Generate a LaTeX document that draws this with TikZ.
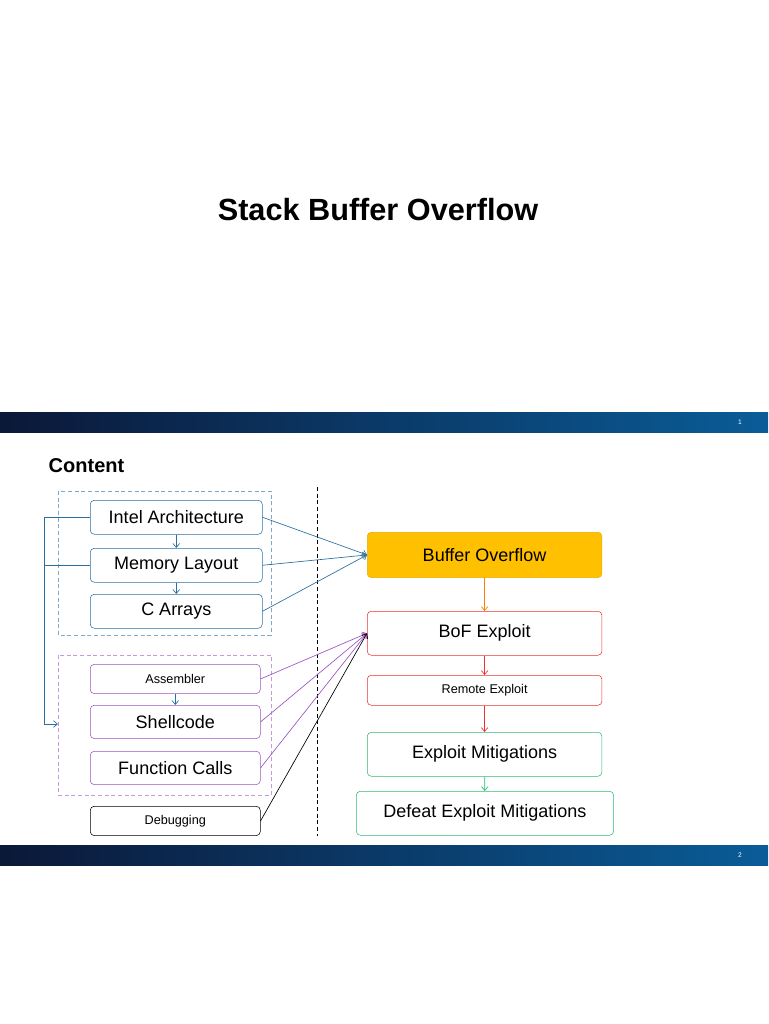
\documentclass[tikz,border=0pt]{standalone}
\usepackage{fontspec}
\setmainfont{Liberation Sans}
\usetikzlibrary{arrows.meta}
\definecolor{bluec}{HTML}{2A6FA0}
\definecolor{purc}{HTML}{9A55C0}
\definecolor{redc}{HTML}{F03030}
\definecolor{grnc}{HTML}{30B870}
\definecolor{orgc}{HTML}{FFC000}
\definecolor{navyl}{HTML}{0B1838}
\definecolor{navyr}{HTML}{0A5C98}
\tikzset{
  box/.style={draw, rounded corners=3pt, anchor=north west, align=left,
    inner xsep=6pt, inner ysep=0pt, font=\fontsize{13.5}{15}\selectfont},
  smallbox/.style={box, font=\fontsize{9.5}{11}\selectfont},
  con/.style={-{Straight Barb[length=3pt,width=5pt]}, line width=0.5pt},
  banner/.style={left color=navyl, right color=navyr, draw=none}
}
\begin{document}
\begin{tikzpicture}[x=0.75pt,y=-0.75pt]
	\useasboundingbox (0,0) rectangle (768,1024);
	\draw (378,210) node[font=\bfseries\fontsize{23}{26}\selectfont] {Stack Buffer Overflow};
	\fill[banner] (0,412) rectangle (768,432);
	\draw (740,422) node[white, font=\fontsize{5}{6}\selectfont] {1};
	\draw (44,466) node[anchor=west, font=\bfseries\fontsize{15}{17}\selectfont] {Content};
	% groups
	\draw[bluec!60, densely dashed, line width=0.4pt] (58,491) rectangle (271,635);
	\draw[purc!60, densely dashed, line width=0.4pt] (58,655) rectangle (271,795);
	\draw[densely dashed, line width=0.5pt] (317,487) -- (317,836);
	% left nodes
	\node[box, draw=bluec, minimum width=129pt, minimum height=25.5pt] (intel) at (90,500) {Intel Architecture};
	\node[box, draw=bluec, minimum width=129pt, minimum height=25.5pt] (mem) at (90,548) {Memory Layout};
	\node[box, draw=bluec, minimum width=129pt, minimum height=25.5pt] (carr) at (90,594) {C Arrays};
	\node[smallbox, draw=purc, minimum width=127.5pt, minimum height=22pt] (asm) at (90,664) {Assembler};
	\node[box, draw=purc, minimum width=127.5pt, minimum height=25pt] (shell) at (90,705) {Shellcode};
	\node[box, draw=purc, minimum width=127.5pt, minimum height=25pt] (func) at (90,751) {Function Calls};
	\node[smallbox, draw=black, minimum width=127.5pt, minimum height=22pt] (dbg) at (90,806) {Debugging};
	% right nodes
	\node[box, draw=orgc!90!black, fill=orgc, minimum width=176pt, minimum height=34pt] (bo) at (367,532) {Buffer Overflow};
	\node[box, draw=redc, minimum width=176pt, minimum height=33pt] (bof) at (367,611) {BoF Exploit};
	\node[smallbox, draw=redc, minimum width=176pt, minimum height=22.5pt] (rem) at (367,675) {Remote Exploit};
	\node[box, draw=grnc, minimum width=176pt, minimum height=33pt] (mit) at (367,732) {Exploit Mitigations};
	\node[box, draw=grnc, minimum width=193pt, minimum height=33pt] (def) at (356,791) {Defeat Exploit Mitigations};
	\coordinate (grp) at (58,724);
	% connectors
	\draw[con, bluec] (intel.west) -- ++(-46,0) |- (grp);
	\draw[bluec, line width=0.5pt] (mem.west) -- ++(-46,0);
	\draw[con, bluec] (intel) -- (mem);
	\draw[con, bluec] (mem) -- (carr);
	\draw[con, bluec] (asm) -- (shell);
	\draw[con, bluec] (intel.east) -- (bo.west);
	\draw[con, bluec] (mem.east) -- (bo.west);
	\draw[con, bluec] (carr.east) -- (bo.west);
	\draw[con, purc] (asm.east) -- (bof.west);
	\draw[con, purc] (shell.east) -- (bof.west);
	\draw[con, purc] (func.east) -- (bof.west);
	\draw[con, black] (dbg.east) -- (bof.west);
	\draw[con, orange] (bo) -- (bof);
	\draw[con, redc] (bof) -- (rem);
	\draw[con, redc] (rem) -- (mit);
	\draw[con, grnc] (mit) -- (def);
	\fill[banner] (0,845) rectangle (768,865);
	\draw (740,855) node[white, font=\fontsize{5}{6}\selectfont] {2};
\end{tikzpicture}
\end{document}
